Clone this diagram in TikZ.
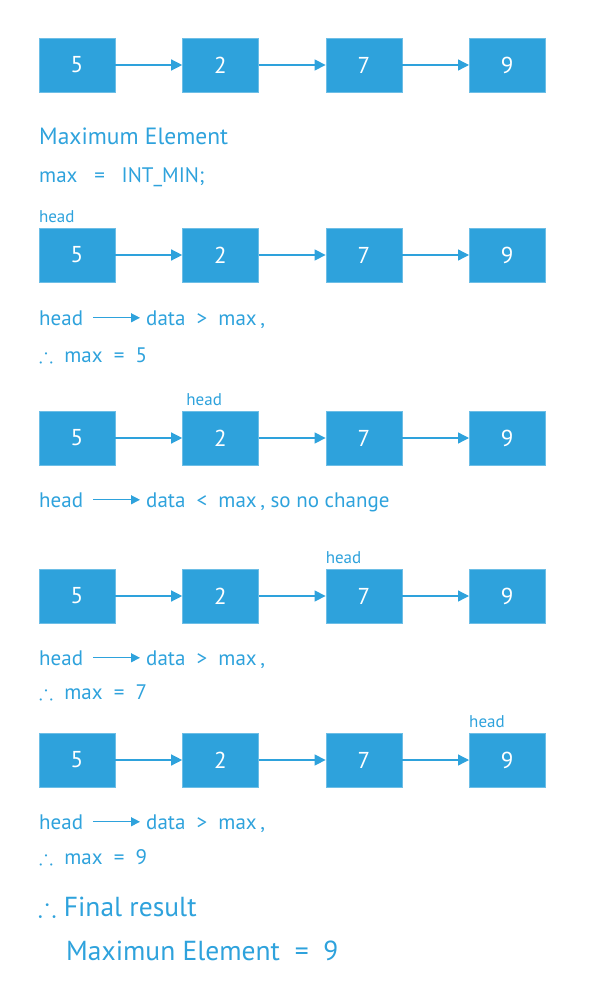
\documentclass[tikz,border=0pt]{standalone}
\usepackage{amssymb}
\usepackage{fontspec}
\setmainfont{PT Sans}
\usetikzlibrary{positioning,arrows.meta}
\definecolor{lblue}{HTML}{2EA2DC}

\begin{document}
\begin{tikzpicture}[x=1pt, y=1pt, node distance=67pt,
    cell/.style={draw=lblue!70!white, fill=lblue, minimum width=76pt, minimum height=54pt, inner sep=0pt, text=white, font=\fontsize{23}{26}\selectfont},
    link/.style={-{Triangle[length=11pt,width=11pt]}, draw=lblue, line width=1.3pt},
    ptr/.style={-{Triangle[length=9pt,width=9pt]}, draw=lblue, line width=1.3pt, shorten <=10pt, shorten >=6pt},
    txt/.style={text=lblue, anchor=base west, inner sep=0pt, font=\fontsize{21}{24}\selectfont},
    big/.style={txt, font=\fontsize{23.5}{27}\selectfont},
    huge/.style={txt, font=\fontsize{27.5}{32}\selectfont},
    tag/.style={text=lblue, anchor=south west, inner sep=0pt, font=\fontsize{17}{20}\selectfont}]
    \useasboundingbox (0,0) rectangle (595,-1000);

    % the five copies of the list
    \foreach \r/\y in {a/65, b/255, c/438, d/596, e/760} {
        \node[cell] (\r1) at (77,-\y) {5};
        \node[cell, right=of \r1] (\r2) {2};
        \node[cell, right=of \r2] (\r3) {7};
        \node[cell, right=of \r3] (\r4) {9};
        \draw[link] (\r1) -- (\r2);
        \draw[link] (\r2) -- (\r3);
        \draw[link] (\r3) -- (\r4);
    }

    \node[big] (title) at (39,-145) {Maximum Element};
    \node[txt] (init) at (39,-183) {max\ \ \ =\ \ \ INT\_MIN;};

    % head markers
    \node[tag, above=5pt of b1.north west, anchor=south west] (hb) {head};
    \node[tag, above=5pt of c2.north west, anchor=south west, xshift=4pt] (hc) {head};
    \node[tag, above=5pt of d3.north west, anchor=south west] (hd) {head};
    \node[tag, above=5pt of e4.north west, anchor=south west] (he) {head};

    % step 1
    \node[txt] (h1) at (39,-325) {head};
    \node[txt] (d1) at (146,-325) {data\ \ >\ \ max\,,};
    \draw[ptr] (h1.east) -- (h1.east -| d1.west);
    \node[txt] (m1) at (39,-362) {$\therefore$\ \ max\ \ =\ \ 5};

    % step 2
    \node[txt] (h2) at (39,-507) {head};
    \node[txt] (d2) at (146,-507) {data\ \ <\ \ max\,, so no change};
    \draw[ptr] (h2.east) -- (h2.east -| d2.west);

    % step 3
    \node[txt] (h3) at (39,-665) {head};
    \node[txt] (d3t) at (146,-665) {data\ \ >\ \ max\,,};
    \draw[ptr] (h3.east) -- (h3.east -| d3t.west);
    \node[txt] (m3) at (39,-699) {$\therefore$\ \ max\ \ =\ \ 7};

    % step 4
    \node[txt] (h4) at (39,-829) {head};
    \node[txt] (d4) at (146,-829) {data\ \ >\ \ max\,,};
    \draw[ptr] (h4.east) -- (h4.east -| d4.west);
    \node[txt] (m4) at (39,-864) {$\therefore$\ \ max\ \ =\ \ 9};

    % result
    \node[huge] (fin) at (38,-916) {$\therefore$\ Final result};
    \node[huge] (res) at (66,-960) {Maximun Element\ \ =\ \ 9};
\end{tikzpicture}
\end{document}
